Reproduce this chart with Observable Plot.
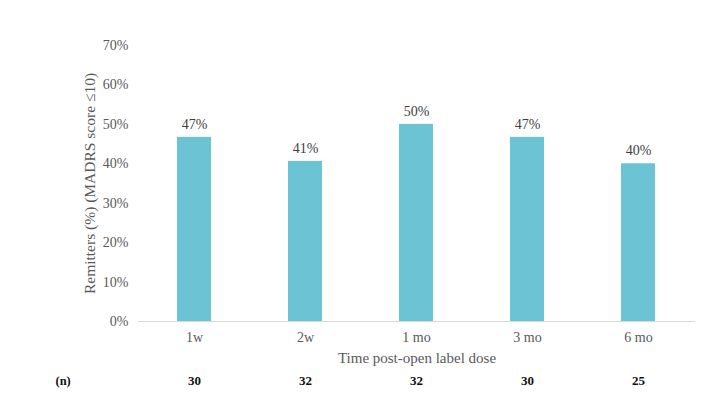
<!DOCTYPE html>
<html>
<head>
<meta charset="utf-8">
<script src="https://cdn.jsdelivr.net/npm/d3@7"></script>
<script src="https://cdn.jsdelivr.net/npm/@observablehq/plot@0.6"></script>
<style>
  html, body { margin: 0; padding: 0; background: #fff; }
  svg { font-family: "Liberation Serif", "DejaVu Serif", serif; }
</style>
</head>
<body>
<div id="chart"></div>
<script>
const categories = ["1w", "2w", "1 mo", "3 mo", "6 mo"];
const remitters = [46.7, 40.6, 50.0, 46.7, 40.0];
const valueLabels = ["47%", "41%", "50%", "47%", "40%"];
const nCounts = [30, 32, 32, 30, 25];
const yTicks = [0, 10, 20, 30, 40, 50, 60, 70];

const data = categories.map((c, i) => ({cat: c, v: remitters[i], lab: valueLabels[i], n: nCounts[i]}));

const chart = Plot.plot({
  width: 703,
  height: 401,
  marginLeft: 138,
  marginRight: 8,
  marginTop: 45,
  marginBottom: 80,
  style: {fontFamily: "'Liberation Serif', serif", fontSize: "14px", color: "#595959", background: "#fff"},
  x: {domain: categories, paddingInner: 0.69, paddingOuter: 0.345, label: null},
  y: {domain: [0, 70], label: null},
  marks: [
    Plot.axisY({ticks: yTicks, tickFormat: d => d + "%", tickSize: 0, tickPadding: 10, fontSize: 14}),
    Plot.text(["Remitters (%) (MADRS score ≤10)"], {frameAnchor: "left", textAnchor: "middle", dx: -48, rotate: -90, fontSize: 15.5, fill: "#595959"}),
    Plot.axisX({tickSize: 0, tickPadding: 11, fontSize: 14}),
    Plot.text(["Time post-open label dose"], {frameAnchor: "bottom", dy: 41, fontSize: 15, fill: "#595959"}),
    Plot.barY(data, {x: "cat", y: "v", fill: "#6bc3d3"}),
    Plot.ruleY([0], {stroke: "#d9d9d9", strokeWidth: 1}),
    Plot.text(data, {x: "cat", y: "v", text: "lab", dy: -13, fontSize: 14, fill: "#404040"}),
    Plot.text(data, {x: "cat", text: d => String(d.n), frameAnchor: "bottom", dy: 63, fontSize: 13, fontWeight: "bold", fill: "#111"}),
    Plot.text(["(n)"], {frameAnchor: "bottom-left", dx: -83, dy: 63, fontSize: 12.5, fontWeight: "bold", fill: "#111"})
  ]
});
document.getElementById("chart").appendChild(chart);
</script>
</body>
</html>
